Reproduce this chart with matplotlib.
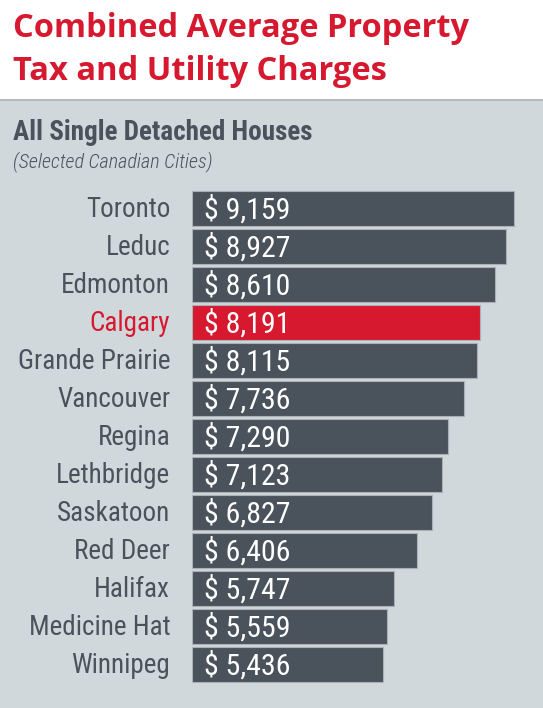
import matplotlib
matplotlib.use("Agg")
import matplotlib.pyplot as plt
from matplotlib import font_manager
from matplotlib.patches import Rectangle

cities = ["Toronto", "Leduc", "Edmonton", "Calgary", "Grande Prairie", "Vancouver",
          "Regina", "Lethbridge", "Saskatoon", "Red Deer", "Halifax", "Medicine Hat",
          "Winnipeg"]
charges = [9159, 8927, 8610, 8191, 8115, 7736, 7290, 7123, 6827, 6406, 5747, 5559, 5436]
highlight = "Calgary"

BG = "#d0d8dc"
BAR = "#4a525b"
RED = "#d6192f"
TXT = "#4a535b"


def pick(*fams):
    names = {f.name for f in font_manager.fontManager.ttflist}
    for f in fams:
        if f in names:
            return f
    return "DejaVu Sans"


narrow = pick("Roboto Condensed", "PT Sans Narrow", "Liberation Sans Narrow")
head = pick("Open Sans", "Lato")

W, H = 543, 708
fig = plt.figure(figsize=(W / 100, H / 100), dpi=100)
fig.patch.set_facecolor("white")

# grey panel under the header
fig.patches.append(Rectangle((0, 0), 1, (H - 100) / H, transform=fig.transFigure,
                             facecolor=BG, edgecolor="none", zorder=-5))
fig.lines.append(plt.Line2D([0, 1], [(H - 100) / H] * 2, transform=fig.transFigure,
                            color="#b5babe", lw=1.5, zorder=-4))

fig.text(13 / W, 1 - 37 / H, "Combined Average Property", color=RED,
         fontsize=23.5, fontweight="bold", family=head, va="baseline")
fig.text(13 / W, 1 - 80 / H, "Tax and Utility Charges", color=RED,
         fontsize=23.5, fontweight="bold", family=head, va="baseline")
fig.text(13 / W, 1 - 140 / H, "All Single Detached Houses", color=TXT,
         fontsize=19.5, fontweight="bold", family=narrow, va="baseline")
fig.text(13 / W, 1 - 167 / H, "(Selected Canadian Cities)", color=TXT,
         fontsize=14.5, style="italic", fontweight="light", family=narrow, va="baseline")

top, bottom = 189.5, 683.5
ax = fig.add_axes([192 / W, 1 - bottom / H, (W - 192) / W, (bottom - top) / H])
ax.set_facecolor("none")
ypos = list(range(len(cities)))
colors = [RED if c == highlight else BAR for c in cities]
ax.barh(ypos, charges, height=0.92, color=colors, edgecolor="#aab1b6", linewidth=0.8)
ax.set_xlim(0, (W - 192) / 0.03515)
ax.set_ylim(len(cities) - 0.5, -0.5)
ax.axis("off")

for y, c, v in zip(ypos, cities, charges):
    ax.text(-620, y + 0.03, c, ha="right", va="center", fontsize=19.5, family=narrow,
            color=RED if c == highlight else TXT)
    ax.text(340, y + 0.03, f"$ {v:,}", ha="left", va="center", fontsize=21.5,
            family=narrow, color="white")

fig.savefig("out.png", dpi=100, facecolor=fig.get_facecolor())
